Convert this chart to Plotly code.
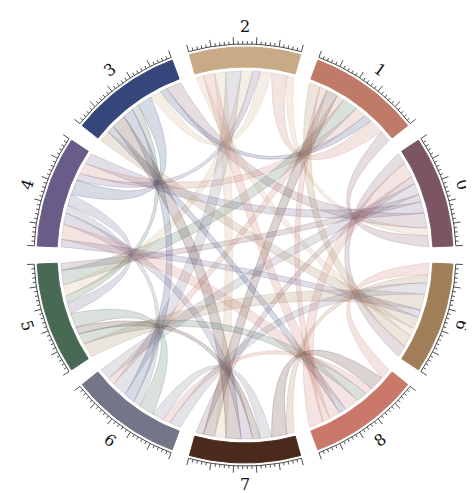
import numpy as np
import plotly.graph_objects as go

# groups, colours and chord matrix (flow from row group to column group)
groups = ["0", "1", "2", "3", "4", "5", "6", "7", "8", "9"]
colors = ["#7b5563", "#c07a68", "#c8aa86", "#34467a", "#695c88",
          "#486a55", "#75758a", "#4a2a1c", "#c9786a", "#a07e58"]
matrix = [
    [0, 3, 2, 4, 3, 2, 3, 2, 4, 3],
    [3, 0, 4, 2, 3, 4, 2, 3, 2, 3],
    [2, 4, 0, 3, 2, 3, 4, 3, 3, 2],
    [4, 2, 3, 0, 4, 2, 3, 4, 2, 3],
    [3, 3, 2, 4, 0, 3, 2, 3, 4, 2],
    [2, 4, 3, 2, 3, 0, 4, 2, 3, 4],
    [3, 2, 4, 3, 2, 4, 0, 3, 2, 3],
    [2, 3, 3, 4, 3, 2, 3, 0, 4, 2],
    [4, 2, 3, 2, 4, 3, 2, 4, 0, 3],
    [3, 3, 2, 3, 2, 4, 3, 2, 3, 0],
]

R_IN, R_OUT = 188, 208
R_CHORD = 184
SPAN, STEP = 31, 36


def pol(r, a):
    t = np.radians(a)
    return r * np.cos(t), r * np.sin(t)


def arc(r, a1, a2, n=20):
    a = np.linspace(a1, a2, n)
    return list(r * np.cos(np.radians(a))), list(r * np.sin(np.radians(a)))


def bez(p0, p2, n=30):
    # control point pulled toward the centre, but not all the way
    cx = (p0[0] + p2[0]) / 2 * 0.3
    cy = (p0[1] + p2[1]) / 2 * 0.3
    t = np.linspace(0, 1, n)
    x = (1 - t) ** 2 * p0[0] + 2 * (1 - t) * t * cx + t ** 2 * p2[0]
    y = (1 - t) ** 2 * p0[1] + 2 * (1 - t) * t * cy + t ** 2 * p2[1]
    return list(x), list(y)


fig = go.Figure()
n = len(groups)
starts = [18 + STEP * k - SPAN / 2 for k in range(n)]
totals = [sum(row) for row in matrix]

slots = {}
for i in range(n):
    pos = starts[i]
    for j in range(n):
        w = matrix[i][j] * SPAN / totals[i]
        slots[(i, j)] = (pos, pos + w)
        pos += w


def rgba(h, a):
    h = h.lstrip("#")
    return "rgba(%d,%d,%d,%s)" % (int(h[0:2], 16), int(h[2:4], 16), int(h[4:6], 16), a)


for i in range(n):
    for j in range(i + 1, n):
        a1, a2 = slots[(i, j)]
        b1, b2 = slots[(j, i)]
        xs, ys = arc(R_CHORD, a1, a2)
        bx, by = bez(pol(R_CHORD, a2), pol(R_CHORD, b1))
        xs += bx; ys += by
        ax_, ay_ = arc(R_CHORD, b1, b2)
        xs += ax_; ys += ay_
        bx, by = bez(pol(R_CHORD, b2), pol(R_CHORD, a1))
        xs += bx; ys += by
        src = i if (i + j) % 2 else j
        fig.add_trace(go.Scatter(x=xs, y=ys, fill="toself", mode="lines",
                                 line=dict(color=rgba(colors[src], 0.35), width=0.6),
                                 fillcolor=rgba(colors[src], 0.2),
                                 hoverinfo="skip", showlegend=False))

# outer ring segments, ticks and labels
for k in range(n):
    s, e = starts[k], starts[k] + SPAN
    xo, yo = arc(R_OUT, s, e)
    xi, yi = arc(R_IN, e, s)
    fig.add_trace(go.Scatter(x=xo + xi + [xo[0]], y=yo + yi + [yo[0]], fill="toself",
                             mode="lines", line=dict(color=colors[k], width=1),
                             fillcolor=colors[k], hoverinfo="skip", showlegend=False))
    tx, ty = [], []
    for m, a in enumerate(np.linspace(s, e, 26)):
        r2 = 218 if m % 5 == 0 else 214
        p1, p2 = pol(211, a), pol(r2, a)
        tx += [p1[0], p2[0], None]
        ty += [p1[1], p2[1], None]
    ax_, ay_ = arc(211, s, e)
    tx += ax_; ty += ay_
    fig.add_trace(go.Scatter(x=tx, y=ty, mode="lines", line=dict(color="#222", width=0.8),
                             hoverinfo="skip", showlegend=False))
    mid = s + SPAN / 2
    ang = 90 - mid
    if 180 < mid < 360:
        ang += 180
    lx, ly = pol(229, mid)
    fig.add_annotation(x=lx, y=ly, text=groups[k], showarrow=False,
                       textangle=ang, font=dict(size=16, color="#111",
                                                family="DejaVu Serif"))

fig.update_layout(width=474, height=493, margin=dict(l=0, r=0, t=0, b=0),
                  plot_bgcolor="white", paper_bgcolor="white",
                  xaxis=dict(range=[-237, 237], visible=False),
                  yaxis=dict(range=[-246, 247], visible=False))
fig.write_html("out.html")
